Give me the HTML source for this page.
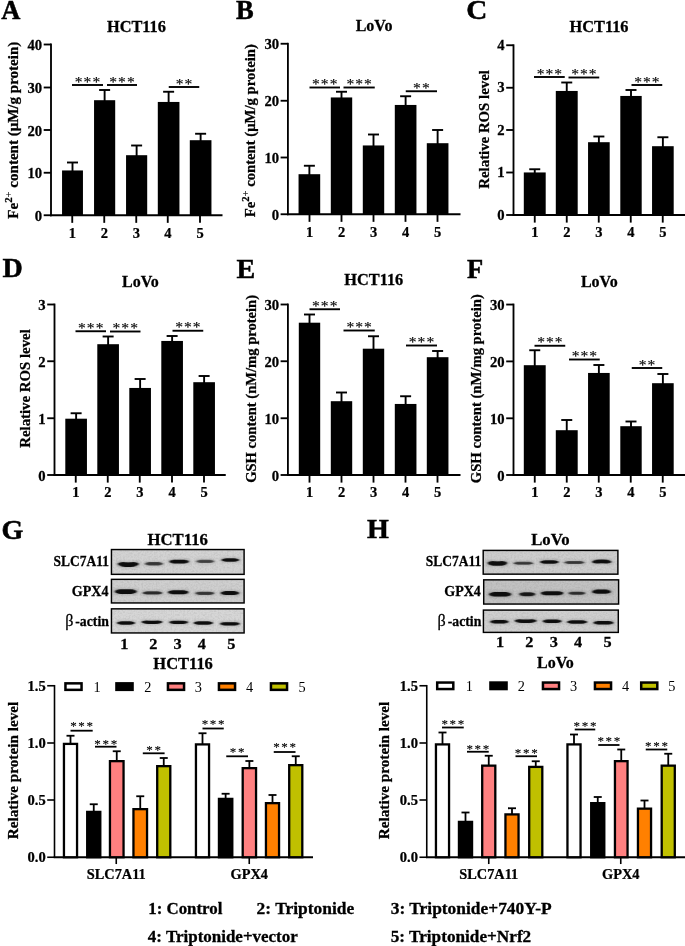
<!DOCTYPE html>
<html><head><meta charset="utf-8"><title>Figure</title>
<style>html,body{margin:0;padding:0;background:#fff}svg{display:block}text{font-family:"Liberation Serif", "DejaVu Serif", serif;fill:#000}</style>
</head><body>
<svg width="685" height="946" viewBox="0 0 685 946">
<defs>
<filter id="b1" filterUnits="userSpaceOnUse" x="100" y="540" width="530" height="100"><feGaussianBlur stdDeviation="0.8 0.55"/></filter>
<filter id="b2" filterUnits="userSpaceOnUse" x="100" y="540" width="530" height="100"><feGaussianBlur stdDeviation="1.6 1.1"/></filter>
<filter id="noise" x="0" y="0" width="100%" height="100%"><feTurbulence type="fractalNoise" baseFrequency="0.55" numOctaves="2" seed="3" result="n"/><feColorMatrix in="n" type="matrix" values="0 0 0 0 0  0 0 0 0 0  0 0 0 0 0  0.5 0.5 0 0 -0.42"/></filter>
</defs>
<rect width="685" height="946" fill="#fff"/>
<line x1="51.00" y1="43.58" x2="51.00" y2="216.18" stroke="#000" stroke-width="1.85"/>
<line x1="50.08" y1="215.25" x2="222.50" y2="215.25" stroke="#000" stroke-width="1.85"/>
<line x1="43.70" y1="44.50" x2="51.00" y2="44.50" stroke="#000" stroke-width="1.85"/>
<text transform="translate(42.20,50.00) scale(1.05,1)" font-size="14" font-weight="bold" text-anchor="end" stroke="#000" stroke-width="0.25">40</text>
<line x1="43.70" y1="87.50" x2="51.00" y2="87.50" stroke="#000" stroke-width="1.85"/>
<text transform="translate(42.20,93.00) scale(1.05,1)" font-size="14" font-weight="bold" text-anchor="end" stroke="#000" stroke-width="0.25">30</text>
<line x1="43.70" y1="130.00" x2="51.00" y2="130.00" stroke="#000" stroke-width="1.85"/>
<text transform="translate(42.20,135.50) scale(1.05,1)" font-size="14" font-weight="bold" text-anchor="end" stroke="#000" stroke-width="0.25">20</text>
<line x1="43.70" y1="172.75" x2="51.00" y2="172.75" stroke="#000" stroke-width="1.85"/>
<text transform="translate(42.20,178.25) scale(1.05,1)" font-size="14" font-weight="bold" text-anchor="end" stroke="#000" stroke-width="0.25">10</text>
<line x1="43.70" y1="215.25" x2="51.00" y2="215.25" stroke="#000" stroke-width="1.85"/>
<text transform="translate(42.20,221.15) scale(1.05,1)" font-size="14" font-weight="bold" text-anchor="end" stroke="#000" stroke-width="0.25">0</text>
<line x1="72.25" y1="215.25" x2="72.25" y2="222.85" stroke="#000" stroke-width="1.85"/>
<text transform="translate(72.25,237.55) scale(1.035,1)" font-size="14" font-weight="bold" text-anchor="middle" stroke="#000" stroke-width="0.25">1</text>
<line x1="104.25" y1="215.25" x2="104.25" y2="222.85" stroke="#000" stroke-width="1.85"/>
<text transform="translate(104.25,237.55) scale(1.035,1)" font-size="14" font-weight="bold" text-anchor="middle" stroke="#000" stroke-width="0.25">2</text>
<line x1="136.25" y1="215.25" x2="136.25" y2="222.85" stroke="#000" stroke-width="1.85"/>
<text transform="translate(136.25,237.55) scale(1.035,1)" font-size="14" font-weight="bold" text-anchor="middle" stroke="#000" stroke-width="0.25">3</text>
<line x1="167.75" y1="215.25" x2="167.75" y2="222.85" stroke="#000" stroke-width="1.85"/>
<text transform="translate(167.75,237.55) scale(1.035,1)" font-size="14" font-weight="bold" text-anchor="middle" stroke="#000" stroke-width="0.25">4</text>
<line x1="200.00" y1="215.25" x2="200.00" y2="222.85" stroke="#000" stroke-width="1.85"/>
<text transform="translate(200.00,237.55) scale(1.035,1)" font-size="14" font-weight="bold" text-anchor="middle" stroke="#000" stroke-width="0.25">5</text>
<rect x="62.05" y="170.45" width="20.90" height="44.80" fill="#000"/>
<line x1="72.50" y1="171.75" x2="72.50" y2="162.50" stroke="#000" stroke-width="1.9"/>
<line x1="67.00" y1="162.50" x2="78.00" y2="162.50" stroke="#000" stroke-width="1.9"/>
<rect x="94.05" y="100.20" width="21.15" height="115.05" fill="#000"/>
<line x1="104.62" y1="101.50" x2="104.62" y2="90.00" stroke="#000" stroke-width="1.9"/>
<line x1="99.12" y1="90.00" x2="110.12" y2="90.00" stroke="#000" stroke-width="1.9"/>
<rect x="126.05" y="155.20" width="21.15" height="60.05" fill="#000"/>
<line x1="136.62" y1="156.50" x2="136.62" y2="145.50" stroke="#000" stroke-width="1.9"/>
<line x1="131.12" y1="145.50" x2="142.12" y2="145.50" stroke="#000" stroke-width="1.9"/>
<rect x="157.80" y="101.95" width="21.65" height="113.30" fill="#000"/>
<line x1="168.62" y1="103.25" x2="168.62" y2="91.75" stroke="#000" stroke-width="1.9"/>
<line x1="163.12" y1="91.75" x2="174.12" y2="91.75" stroke="#000" stroke-width="1.9"/>
<rect x="189.80" y="140.20" width="21.65" height="75.05" fill="#000"/>
<line x1="200.62" y1="141.50" x2="200.62" y2="133.75" stroke="#000" stroke-width="1.9"/>
<line x1="195.12" y1="133.75" x2="206.12" y2="133.75" stroke="#000" stroke-width="1.9"/>
<line x1="72.00" y1="85.00" x2="103.00" y2="85.00" stroke="#000" stroke-width="1.9"/>
<text x="88.00" y="86.70" font-size="15.6" text-anchor="middle" letter-spacing="1.0" stroke="#000" stroke-width="0.16">***</text>
<line x1="107.00" y1="85.00" x2="137.00" y2="85.00" stroke="#000" stroke-width="1.9"/>
<text x="122.50" y="86.70" font-size="15.6" text-anchor="middle" letter-spacing="1.0" stroke="#000" stroke-width="0.16">***</text>
<line x1="168.75" y1="87.00" x2="199.25" y2="87.00" stroke="#000" stroke-width="1.9"/>
<text x="184.50" y="88.70" font-size="15.6" text-anchor="middle" letter-spacing="1.0" stroke="#000" stroke-width="0.16">**</text>
<text transform="translate(136.40,32.00) scale(1.02,1)" font-size="16" font-weight="bold" text-anchor="middle" stroke="#000" stroke-width="0.29">HCT116</text>
<text transform="translate(1.20,18.50)" font-size="26.5" font-weight="bold" text-anchor="start" stroke="#000" stroke-width="0.48">A</text>
<text transform="translate(17.70,130.20) rotate(-90) scale(1.074,1)" font-size="14" font-weight="bold" text-anchor="middle" stroke="#000" stroke-width="0.25">Fe<tspan font-size="10" dy="-6.2">2</tspan><tspan font-size="10" font-weight="normal" stroke-width="0.15">+</tspan><tspan dy="6.2"> content (μM/g protein)</tspan></text>
<line x1="287.90" y1="42.83" x2="287.90" y2="215.18" stroke="#000" stroke-width="1.85"/>
<line x1="286.97" y1="214.25" x2="460.50" y2="214.25" stroke="#000" stroke-width="1.85"/>
<line x1="280.60" y1="43.75" x2="287.90" y2="43.75" stroke="#000" stroke-width="1.85"/>
<text transform="translate(279.10,49.25) scale(1.05,1)" font-size="14" font-weight="bold" text-anchor="end" stroke="#000" stroke-width="0.25">30</text>
<line x1="280.60" y1="100.75" x2="287.90" y2="100.75" stroke="#000" stroke-width="1.85"/>
<text transform="translate(279.10,106.25) scale(1.05,1)" font-size="14" font-weight="bold" text-anchor="end" stroke="#000" stroke-width="0.25">20</text>
<line x1="280.60" y1="157.50" x2="287.90" y2="157.50" stroke="#000" stroke-width="1.85"/>
<text transform="translate(279.10,163.00) scale(1.05,1)" font-size="14" font-weight="bold" text-anchor="end" stroke="#000" stroke-width="0.25">10</text>
<line x1="280.60" y1="214.25" x2="287.90" y2="214.25" stroke="#000" stroke-width="1.85"/>
<text transform="translate(279.10,220.15) scale(1.05,1)" font-size="14" font-weight="bold" text-anchor="end" stroke="#000" stroke-width="0.25">0</text>
<line x1="309.50" y1="214.25" x2="309.50" y2="221.85" stroke="#000" stroke-width="1.85"/>
<text transform="translate(309.50,236.55) scale(1.035,1)" font-size="14" font-weight="bold" text-anchor="middle" stroke="#000" stroke-width="0.25">1</text>
<line x1="341.50" y1="214.25" x2="341.50" y2="221.85" stroke="#000" stroke-width="1.85"/>
<text transform="translate(341.50,236.55) scale(1.035,1)" font-size="14" font-weight="bold" text-anchor="middle" stroke="#000" stroke-width="0.25">2</text>
<line x1="373.50" y1="214.25" x2="373.50" y2="221.85" stroke="#000" stroke-width="1.85"/>
<text transform="translate(373.50,236.55) scale(1.035,1)" font-size="14" font-weight="bold" text-anchor="middle" stroke="#000" stroke-width="0.25">3</text>
<line x1="405.50" y1="214.25" x2="405.50" y2="221.85" stroke="#000" stroke-width="1.85"/>
<text transform="translate(405.50,236.55) scale(1.035,1)" font-size="14" font-weight="bold" text-anchor="middle" stroke="#000" stroke-width="0.25">4</text>
<line x1="437.50" y1="214.25" x2="437.50" y2="221.85" stroke="#000" stroke-width="1.85"/>
<text transform="translate(437.50,236.55) scale(1.035,1)" font-size="14" font-weight="bold" text-anchor="middle" stroke="#000" stroke-width="0.25">5</text>
<rect x="298.55" y="174.20" width="21.65" height="40.05" fill="#000"/>
<line x1="309.38" y1="175.50" x2="309.38" y2="165.75" stroke="#000" stroke-width="1.9"/>
<line x1="303.88" y1="165.75" x2="314.88" y2="165.75" stroke="#000" stroke-width="1.9"/>
<rect x="330.80" y="97.45" width="21.40" height="116.80" fill="#000"/>
<line x1="341.50" y1="98.75" x2="341.50" y2="91.75" stroke="#000" stroke-width="1.9"/>
<line x1="336.00" y1="91.75" x2="347.00" y2="91.75" stroke="#000" stroke-width="1.9"/>
<rect x="362.80" y="145.45" width="21.40" height="68.80" fill="#000"/>
<line x1="373.50" y1="146.75" x2="373.50" y2="134.50" stroke="#000" stroke-width="1.9"/>
<line x1="368.00" y1="134.50" x2="379.00" y2="134.50" stroke="#000" stroke-width="1.9"/>
<rect x="394.80" y="104.95" width="21.65" height="109.30" fill="#000"/>
<line x1="405.62" y1="106.25" x2="405.62" y2="96.25" stroke="#000" stroke-width="1.9"/>
<line x1="400.12" y1="96.25" x2="411.12" y2="96.25" stroke="#000" stroke-width="1.9"/>
<rect x="426.80" y="143.20" width="21.65" height="71.05" fill="#000"/>
<line x1="437.62" y1="144.50" x2="437.62" y2="130.00" stroke="#000" stroke-width="1.9"/>
<line x1="432.12" y1="130.00" x2="443.12" y2="130.00" stroke="#000" stroke-width="1.9"/>
<line x1="309.50" y1="87.50" x2="340.00" y2="87.50" stroke="#000" stroke-width="1.9"/>
<text x="325.25" y="89.20" font-size="15.6" text-anchor="middle" letter-spacing="1.0" stroke="#000" stroke-width="0.16">***</text>
<line x1="343.50" y1="87.50" x2="374.75" y2="87.50" stroke="#000" stroke-width="1.9"/>
<text x="359.62" y="89.20" font-size="15.6" text-anchor="middle" letter-spacing="1.0" stroke="#000" stroke-width="0.16">***</text>
<line x1="405.75" y1="91.25" x2="437.00" y2="91.25" stroke="#000" stroke-width="1.9"/>
<text x="421.88" y="92.95" font-size="15.6" text-anchor="middle" letter-spacing="1.0" stroke="#000" stroke-width="0.16">**</text>
<text transform="translate(374.00,31.00)" font-size="16" font-weight="bold" text-anchor="middle" stroke="#000" stroke-width="0.29">LoVo</text>
<text transform="translate(236.00,18.50)" font-size="26.5" font-weight="bold" text-anchor="start" stroke="#000" stroke-width="0.48">B</text>
<text transform="translate(255.30,130.70) rotate(-90) scale(1.05,1)" font-size="14" font-weight="bold" text-anchor="middle" stroke="#000" stroke-width="0.25">Fe<tspan font-size="10" dy="-6.2">2</tspan><tspan font-size="10" font-weight="normal" stroke-width="0.15">+</tspan><tspan dy="6.2"> content (μM/g protein)</tspan></text>
<line x1="513.50" y1="44.33" x2="513.50" y2="215.93" stroke="#000" stroke-width="1.85"/>
<line x1="512.58" y1="215.00" x2="686.00" y2="215.00" stroke="#000" stroke-width="1.85"/>
<line x1="506.20" y1="45.25" x2="513.50" y2="45.25" stroke="#000" stroke-width="1.85"/>
<text transform="translate(504.70,49.85) scale(1.05,1)" font-size="14" font-weight="bold" text-anchor="end" stroke="#000" stroke-width="0.25">4</text>
<line x1="506.20" y1="87.75" x2="513.50" y2="87.75" stroke="#000" stroke-width="1.85"/>
<text transform="translate(504.70,92.35) scale(1.05,1)" font-size="14" font-weight="bold" text-anchor="end" stroke="#000" stroke-width="0.25">3</text>
<line x1="506.20" y1="130.00" x2="513.50" y2="130.00" stroke="#000" stroke-width="1.85"/>
<text transform="translate(504.70,134.60) scale(1.05,1)" font-size="14" font-weight="bold" text-anchor="end" stroke="#000" stroke-width="0.25">2</text>
<line x1="506.20" y1="172.50" x2="513.50" y2="172.50" stroke="#000" stroke-width="1.85"/>
<text transform="translate(504.70,177.10) scale(1.05,1)" font-size="14" font-weight="bold" text-anchor="end" stroke="#000" stroke-width="0.25">1</text>
<line x1="506.20" y1="215.00" x2="513.50" y2="215.00" stroke="#000" stroke-width="1.85"/>
<text transform="translate(504.70,220.00) scale(1.05,1)" font-size="14" font-weight="bold" text-anchor="end" stroke="#000" stroke-width="0.25">0</text>
<line x1="534.75" y1="215.00" x2="534.75" y2="222.60" stroke="#000" stroke-width="1.85"/>
<text transform="translate(534.75,237.30) scale(1.035,1)" font-size="14" font-weight="bold" text-anchor="middle" stroke="#000" stroke-width="0.25">1</text>
<line x1="566.75" y1="215.00" x2="566.75" y2="222.60" stroke="#000" stroke-width="1.85"/>
<text transform="translate(566.75,237.30) scale(1.035,1)" font-size="14" font-weight="bold" text-anchor="middle" stroke="#000" stroke-width="0.25">2</text>
<line x1="598.75" y1="215.00" x2="598.75" y2="222.60" stroke="#000" stroke-width="1.85"/>
<text transform="translate(598.75,237.30) scale(1.035,1)" font-size="14" font-weight="bold" text-anchor="middle" stroke="#000" stroke-width="0.25">3</text>
<line x1="630.75" y1="215.00" x2="630.75" y2="222.60" stroke="#000" stroke-width="1.85"/>
<text transform="translate(630.75,237.30) scale(1.035,1)" font-size="14" font-weight="bold" text-anchor="middle" stroke="#000" stroke-width="0.25">4</text>
<line x1="662.75" y1="215.00" x2="662.75" y2="222.60" stroke="#000" stroke-width="1.85"/>
<text transform="translate(662.75,237.30) scale(1.035,1)" font-size="14" font-weight="bold" text-anchor="middle" stroke="#000" stroke-width="0.25">5</text>
<rect x="523.80" y="172.45" width="21.90" height="42.55" fill="#000"/>
<line x1="534.75" y1="173.75" x2="534.75" y2="169.25" stroke="#000" stroke-width="1.9"/>
<line x1="529.25" y1="169.25" x2="540.25" y2="169.25" stroke="#000" stroke-width="1.9"/>
<rect x="555.80" y="90.95" width="21.90" height="124.05" fill="#000"/>
<line x1="566.75" y1="92.25" x2="566.75" y2="82.50" stroke="#000" stroke-width="1.9"/>
<line x1="561.25" y1="82.50" x2="572.25" y2="82.50" stroke="#000" stroke-width="1.9"/>
<rect x="588.05" y="142.20" width="21.65" height="72.80" fill="#000"/>
<line x1="598.88" y1="143.50" x2="598.88" y2="136.50" stroke="#000" stroke-width="1.9"/>
<line x1="593.38" y1="136.50" x2="604.38" y2="136.50" stroke="#000" stroke-width="1.9"/>
<rect x="620.30" y="95.95" width="21.40" height="119.05" fill="#000"/>
<line x1="631.00" y1="97.25" x2="631.00" y2="90.00" stroke="#000" stroke-width="1.9"/>
<line x1="625.50" y1="90.00" x2="636.50" y2="90.00" stroke="#000" stroke-width="1.9"/>
<rect x="652.05" y="146.20" width="21.65" height="68.80" fill="#000"/>
<line x1="662.88" y1="147.50" x2="662.88" y2="137.25" stroke="#000" stroke-width="1.9"/>
<line x1="657.38" y1="137.25" x2="668.38" y2="137.25" stroke="#000" stroke-width="1.9"/>
<line x1="534.00" y1="77.00" x2="564.75" y2="77.00" stroke="#000" stroke-width="1.9"/>
<text x="549.88" y="78.70" font-size="15.6" text-anchor="middle" letter-spacing="1.0" stroke="#000" stroke-width="0.16">***</text>
<line x1="568.50" y1="77.50" x2="599.25" y2="77.50" stroke="#000" stroke-width="1.9"/>
<text x="584.38" y="79.20" font-size="15.6" text-anchor="middle" letter-spacing="1.0" stroke="#000" stroke-width="0.16">***</text>
<line x1="631.50" y1="85.00" x2="662.25" y2="85.00" stroke="#000" stroke-width="1.9"/>
<text x="647.38" y="86.70" font-size="15.6" text-anchor="middle" letter-spacing="1.0" stroke="#000" stroke-width="0.16">***</text>
<text transform="translate(599.00,31.50) scale(1.02,1)" font-size="16" font-weight="bold" text-anchor="middle" stroke="#000" stroke-width="0.29">HCT116</text>
<text transform="translate(466.30,18.50) scale(1.1,1)" font-size="26.5" font-weight="bold" text-anchor="start" stroke="#000" stroke-width="0.48">C</text>
<text transform="translate(488.50,129.40) rotate(-90) scale(1.06,1)" font-size="14" font-weight="bold" text-anchor="middle" stroke="#000" stroke-width="0.25">Relative ROS level</text>
<line x1="54.50" y1="303.57" x2="54.50" y2="475.93" stroke="#000" stroke-width="1.85"/>
<line x1="53.58" y1="475.00" x2="225.75" y2="475.00" stroke="#000" stroke-width="1.85"/>
<line x1="47.20" y1="304.50" x2="54.50" y2="304.50" stroke="#000" stroke-width="1.85"/>
<text transform="translate(45.70,310.00) scale(1.05,1)" font-size="14" font-weight="bold" text-anchor="end" stroke="#000" stroke-width="0.25">3</text>
<line x1="47.20" y1="361.25" x2="54.50" y2="361.25" stroke="#000" stroke-width="1.85"/>
<text transform="translate(45.70,366.75) scale(1.05,1)" font-size="14" font-weight="bold" text-anchor="end" stroke="#000" stroke-width="0.25">2</text>
<line x1="47.20" y1="418.25" x2="54.50" y2="418.25" stroke="#000" stroke-width="1.85"/>
<text transform="translate(45.70,423.75) scale(1.05,1)" font-size="14" font-weight="bold" text-anchor="end" stroke="#000" stroke-width="0.25">1</text>
<line x1="47.20" y1="475.00" x2="54.50" y2="475.00" stroke="#000" stroke-width="1.85"/>
<text transform="translate(45.70,480.90) scale(1.05,1)" font-size="14" font-weight="bold" text-anchor="end" stroke="#000" stroke-width="0.25">0</text>
<line x1="75.75" y1="475.00" x2="75.75" y2="482.60" stroke="#000" stroke-width="1.85"/>
<text transform="translate(75.75,497.30) scale(1.035,1)" font-size="14" font-weight="bold" text-anchor="middle" stroke="#000" stroke-width="0.25">1</text>
<line x1="107.75" y1="475.00" x2="107.75" y2="482.60" stroke="#000" stroke-width="1.85"/>
<text transform="translate(107.75,497.30) scale(1.035,1)" font-size="14" font-weight="bold" text-anchor="middle" stroke="#000" stroke-width="0.25">2</text>
<line x1="139.75" y1="475.00" x2="139.75" y2="482.60" stroke="#000" stroke-width="1.85"/>
<text transform="translate(139.75,497.30) scale(1.035,1)" font-size="14" font-weight="bold" text-anchor="middle" stroke="#000" stroke-width="0.25">3</text>
<line x1="172.00" y1="475.00" x2="172.00" y2="482.60" stroke="#000" stroke-width="1.85"/>
<text transform="translate(172.00,497.30) scale(1.035,1)" font-size="14" font-weight="bold" text-anchor="middle" stroke="#000" stroke-width="0.25">4</text>
<line x1="204.00" y1="475.00" x2="204.00" y2="482.60" stroke="#000" stroke-width="1.85"/>
<text transform="translate(204.00,497.30) scale(1.035,1)" font-size="14" font-weight="bold" text-anchor="middle" stroke="#000" stroke-width="0.25">5</text>
<rect x="65.30" y="418.70" width="21.65" height="56.30" fill="#000"/>
<line x1="76.12" y1="420.00" x2="76.12" y2="413.25" stroke="#000" stroke-width="1.9"/>
<line x1="70.62" y1="413.25" x2="81.62" y2="413.25" stroke="#000" stroke-width="1.9"/>
<rect x="97.30" y="344.20" width="21.65" height="130.80" fill="#000"/>
<line x1="108.12" y1="345.50" x2="108.12" y2="336.50" stroke="#000" stroke-width="1.9"/>
<line x1="102.62" y1="336.50" x2="113.62" y2="336.50" stroke="#000" stroke-width="1.9"/>
<rect x="129.30" y="387.95" width="21.65" height="87.05" fill="#000"/>
<line x1="140.12" y1="389.25" x2="140.12" y2="379.00" stroke="#000" stroke-width="1.9"/>
<line x1="134.62" y1="379.00" x2="145.62" y2="379.00" stroke="#000" stroke-width="1.9"/>
<rect x="161.30" y="340.95" width="21.65" height="134.05" fill="#000"/>
<line x1="172.12" y1="342.25" x2="172.12" y2="336.00" stroke="#000" stroke-width="1.9"/>
<line x1="166.62" y1="336.00" x2="177.62" y2="336.00" stroke="#000" stroke-width="1.9"/>
<rect x="193.30" y="382.20" width="21.65" height="92.80" fill="#000"/>
<line x1="204.12" y1="383.50" x2="204.12" y2="376.00" stroke="#000" stroke-width="1.9"/>
<line x1="198.62" y1="376.00" x2="209.62" y2="376.00" stroke="#000" stroke-width="1.9"/>
<line x1="75.50" y1="331.25" x2="106.00" y2="331.25" stroke="#000" stroke-width="1.9"/>
<text x="91.25" y="332.95" font-size="15.6" text-anchor="middle" letter-spacing="1.0" stroke="#000" stroke-width="0.16">***</text>
<line x1="110.00" y1="331.50" x2="140.50" y2="331.50" stroke="#000" stroke-width="1.9"/>
<text x="125.75" y="333.20" font-size="15.6" text-anchor="middle" letter-spacing="1.0" stroke="#000" stroke-width="0.16">***</text>
<line x1="172.50" y1="330.75" x2="203.25" y2="330.75" stroke="#000" stroke-width="1.9"/>
<text x="188.38" y="332.45" font-size="15.6" text-anchor="middle" letter-spacing="1.0" stroke="#000" stroke-width="0.16">***</text>
<text transform="translate(140.40,286.50)" font-size="16" font-weight="bold" text-anchor="middle" stroke="#000" stroke-width="0.29">LoVo</text>
<text transform="translate(2.50,276.50) scale(1.06,1)" font-size="26.5" font-weight="bold" text-anchor="start" stroke="#000" stroke-width="0.48">D</text>
<text transform="translate(29.60,388.50) rotate(-90) scale(1.06,1)" font-size="14" font-weight="bold" text-anchor="middle" stroke="#000" stroke-width="0.25">Relative ROS level</text>
<line x1="287.90" y1="303.57" x2="287.90" y2="475.93" stroke="#000" stroke-width="1.85"/>
<line x1="286.97" y1="475.00" x2="460.50" y2="475.00" stroke="#000" stroke-width="1.85"/>
<line x1="280.60" y1="304.50" x2="287.90" y2="304.50" stroke="#000" stroke-width="1.85"/>
<text transform="translate(279.10,310.00) scale(1.05,1)" font-size="14" font-weight="bold" text-anchor="end" stroke="#000" stroke-width="0.25">30</text>
<line x1="280.60" y1="361.25" x2="287.90" y2="361.25" stroke="#000" stroke-width="1.85"/>
<text transform="translate(279.10,366.75) scale(1.05,1)" font-size="14" font-weight="bold" text-anchor="end" stroke="#000" stroke-width="0.25">20</text>
<line x1="280.60" y1="418.25" x2="287.90" y2="418.25" stroke="#000" stroke-width="1.85"/>
<text transform="translate(279.10,423.75) scale(1.05,1)" font-size="14" font-weight="bold" text-anchor="end" stroke="#000" stroke-width="0.25">10</text>
<line x1="280.60" y1="475.00" x2="287.90" y2="475.00" stroke="#000" stroke-width="1.85"/>
<text transform="translate(279.10,480.90) scale(1.05,1)" font-size="14" font-weight="bold" text-anchor="end" stroke="#000" stroke-width="0.25">0</text>
<line x1="309.50" y1="475.00" x2="309.50" y2="482.60" stroke="#000" stroke-width="1.85"/>
<text transform="translate(309.50,497.30) scale(1.035,1)" font-size="14" font-weight="bold" text-anchor="middle" stroke="#000" stroke-width="0.25">1</text>
<line x1="341.50" y1="475.00" x2="341.50" y2="482.60" stroke="#000" stroke-width="1.85"/>
<text transform="translate(341.50,497.30) scale(1.035,1)" font-size="14" font-weight="bold" text-anchor="middle" stroke="#000" stroke-width="0.25">2</text>
<line x1="373.50" y1="475.00" x2="373.50" y2="482.60" stroke="#000" stroke-width="1.85"/>
<text transform="translate(373.50,497.30) scale(1.035,1)" font-size="14" font-weight="bold" text-anchor="middle" stroke="#000" stroke-width="0.25">3</text>
<line x1="405.50" y1="475.00" x2="405.50" y2="482.60" stroke="#000" stroke-width="1.85"/>
<text transform="translate(405.50,497.30) scale(1.035,1)" font-size="14" font-weight="bold" text-anchor="middle" stroke="#000" stroke-width="0.25">4</text>
<line x1="437.50" y1="475.00" x2="437.50" y2="482.60" stroke="#000" stroke-width="1.85"/>
<text transform="translate(437.50,497.30) scale(1.035,1)" font-size="14" font-weight="bold" text-anchor="middle" stroke="#000" stroke-width="0.25">5</text>
<rect x="298.80" y="322.70" width="21.40" height="152.30" fill="#000"/>
<line x1="309.50" y1="324.00" x2="309.50" y2="314.50" stroke="#000" stroke-width="1.9"/>
<line x1="304.00" y1="314.50" x2="315.00" y2="314.50" stroke="#000" stroke-width="1.9"/>
<rect x="330.80" y="401.20" width="21.40" height="73.80" fill="#000"/>
<line x1="341.50" y1="402.50" x2="341.50" y2="392.50" stroke="#000" stroke-width="1.9"/>
<line x1="336.00" y1="392.50" x2="347.00" y2="392.50" stroke="#000" stroke-width="1.9"/>
<rect x="362.80" y="348.70" width="21.40" height="126.30" fill="#000"/>
<line x1="373.50" y1="350.00" x2="373.50" y2="336.25" stroke="#000" stroke-width="1.9"/>
<line x1="368.00" y1="336.25" x2="379.00" y2="336.25" stroke="#000" stroke-width="1.9"/>
<rect x="394.80" y="403.95" width="21.65" height="71.05" fill="#000"/>
<line x1="405.62" y1="405.25" x2="405.62" y2="396.25" stroke="#000" stroke-width="1.9"/>
<line x1="400.12" y1="396.25" x2="411.12" y2="396.25" stroke="#000" stroke-width="1.9"/>
<rect x="426.80" y="357.20" width="21.65" height="117.80" fill="#000"/>
<line x1="437.62" y1="358.50" x2="437.62" y2="351.00" stroke="#000" stroke-width="1.9"/>
<line x1="432.12" y1="351.00" x2="443.12" y2="351.00" stroke="#000" stroke-width="1.9"/>
<line x1="309.50" y1="309.25" x2="340.00" y2="309.25" stroke="#000" stroke-width="1.9"/>
<text x="325.25" y="310.95" font-size="15.6" text-anchor="middle" letter-spacing="1.0" stroke="#000" stroke-width="0.16">***</text>
<line x1="343.50" y1="330.50" x2="374.75" y2="330.50" stroke="#000" stroke-width="1.9"/>
<text x="359.62" y="332.20" font-size="15.6" text-anchor="middle" letter-spacing="1.0" stroke="#000" stroke-width="0.16">***</text>
<line x1="406.00" y1="345.50" x2="437.00" y2="345.50" stroke="#000" stroke-width="1.9"/>
<text x="422.00" y="347.20" font-size="15.6" text-anchor="middle" letter-spacing="1.0" stroke="#000" stroke-width="0.16">***</text>
<text transform="translate(373.75,285.00) scale(1.02,1)" font-size="16" font-weight="bold" text-anchor="middle" stroke="#000" stroke-width="0.29">HCT116</text>
<text transform="translate(236.50,277.50) scale(1.06,1)" font-size="26.5" font-weight="bold" text-anchor="start" stroke="#000" stroke-width="0.48">E</text>
<text transform="translate(255.50,388.90) rotate(-90) scale(1.042,1)" font-size="14" font-weight="bold" text-anchor="middle" stroke="#000" stroke-width="0.25">GSH content (nM/mg protein)</text>
<line x1="513.50" y1="303.62" x2="513.50" y2="475.93" stroke="#000" stroke-width="1.85"/>
<line x1="512.58" y1="475.00" x2="686.00" y2="475.00" stroke="#000" stroke-width="1.85"/>
<line x1="506.20" y1="304.55" x2="513.50" y2="304.55" stroke="#000" stroke-width="1.85"/>
<text transform="translate(504.70,310.05) scale(1.05,1)" font-size="14" font-weight="bold" text-anchor="end" stroke="#000" stroke-width="0.25">30</text>
<line x1="506.20" y1="361.40" x2="513.50" y2="361.40" stroke="#000" stroke-width="1.85"/>
<text transform="translate(504.70,366.90) scale(1.05,1)" font-size="14" font-weight="bold" text-anchor="end" stroke="#000" stroke-width="0.25">20</text>
<line x1="506.20" y1="418.30" x2="513.50" y2="418.30" stroke="#000" stroke-width="1.85"/>
<text transform="translate(504.70,423.80) scale(1.05,1)" font-size="14" font-weight="bold" text-anchor="end" stroke="#000" stroke-width="0.25">10</text>
<line x1="506.20" y1="475.00" x2="513.50" y2="475.00" stroke="#000" stroke-width="1.85"/>
<text transform="translate(504.70,480.90) scale(1.05,1)" font-size="14" font-weight="bold" text-anchor="end" stroke="#000" stroke-width="0.25">0</text>
<line x1="534.75" y1="475.00" x2="534.75" y2="482.60" stroke="#000" stroke-width="1.85"/>
<text transform="translate(534.75,497.30) scale(1.035,1)" font-size="14" font-weight="bold" text-anchor="middle" stroke="#000" stroke-width="0.25">1</text>
<line x1="566.75" y1="475.00" x2="566.75" y2="482.60" stroke="#000" stroke-width="1.85"/>
<text transform="translate(566.75,497.30) scale(1.035,1)" font-size="14" font-weight="bold" text-anchor="middle" stroke="#000" stroke-width="0.25">2</text>
<line x1="598.75" y1="475.00" x2="598.75" y2="482.60" stroke="#000" stroke-width="1.85"/>
<text transform="translate(598.75,497.30) scale(1.035,1)" font-size="14" font-weight="bold" text-anchor="middle" stroke="#000" stroke-width="0.25">3</text>
<line x1="630.75" y1="475.00" x2="630.75" y2="482.60" stroke="#000" stroke-width="1.85"/>
<text transform="translate(630.75,497.30) scale(1.035,1)" font-size="14" font-weight="bold" text-anchor="middle" stroke="#000" stroke-width="0.25">4</text>
<line x1="662.75" y1="475.00" x2="662.75" y2="482.60" stroke="#000" stroke-width="1.85"/>
<text transform="translate(662.75,497.30) scale(1.035,1)" font-size="14" font-weight="bold" text-anchor="middle" stroke="#000" stroke-width="0.25">5</text>
<rect x="523.80" y="365.20" width="21.90" height="109.80" fill="#000"/>
<line x1="534.75" y1="366.50" x2="534.75" y2="350.25" stroke="#000" stroke-width="1.9"/>
<line x1="529.25" y1="350.25" x2="540.25" y2="350.25" stroke="#000" stroke-width="1.9"/>
<rect x="555.80" y="430.20" width="21.90" height="44.80" fill="#000"/>
<line x1="566.75" y1="431.50" x2="566.75" y2="420.00" stroke="#000" stroke-width="1.9"/>
<line x1="561.25" y1="420.00" x2="572.25" y2="420.00" stroke="#000" stroke-width="1.9"/>
<rect x="588.05" y="372.95" width="21.65" height="102.05" fill="#000"/>
<line x1="598.88" y1="374.25" x2="598.88" y2="365.00" stroke="#000" stroke-width="1.9"/>
<line x1="593.38" y1="365.00" x2="604.38" y2="365.00" stroke="#000" stroke-width="1.9"/>
<rect x="620.30" y="426.20" width="21.40" height="48.80" fill="#000"/>
<line x1="631.00" y1="427.50" x2="631.00" y2="421.50" stroke="#000" stroke-width="1.9"/>
<line x1="625.50" y1="421.50" x2="636.50" y2="421.50" stroke="#000" stroke-width="1.9"/>
<rect x="652.05" y="383.20" width="21.65" height="91.80" fill="#000"/>
<line x1="662.88" y1="384.50" x2="662.88" y2="374.00" stroke="#000" stroke-width="1.9"/>
<line x1="657.38" y1="374.00" x2="668.38" y2="374.00" stroke="#000" stroke-width="1.9"/>
<line x1="534.50" y1="345.75" x2="565.25" y2="345.75" stroke="#000" stroke-width="1.9"/>
<text x="550.38" y="347.45" font-size="15.6" text-anchor="middle" letter-spacing="1.0" stroke="#000" stroke-width="0.16">***</text>
<line x1="569.00" y1="359.50" x2="599.75" y2="359.50" stroke="#000" stroke-width="1.9"/>
<text x="584.88" y="361.20" font-size="15.6" text-anchor="middle" letter-spacing="1.0" stroke="#000" stroke-width="0.16">***</text>
<line x1="631.75" y1="368.00" x2="662.25" y2="368.00" stroke="#000" stroke-width="1.9"/>
<text x="647.50" y="369.70" font-size="15.6" text-anchor="middle" letter-spacing="1.0" stroke="#000" stroke-width="0.16">**</text>
<text transform="translate(599.25,286.70)" font-size="16" font-weight="bold" text-anchor="middle" stroke="#000" stroke-width="0.29">LoVo</text>
<text transform="translate(467.00,277.50)" font-size="26.5" font-weight="bold" text-anchor="start" stroke="#000" stroke-width="0.48">F</text>
<text transform="translate(481.00,388.70) rotate(-90) scale(1.048,1)" font-size="14" font-weight="bold" text-anchor="middle" stroke="#000" stroke-width="0.25">GSH content (nM/mg protein)</text>
<rect x="111.45" y="549.55" width="132.65" height="24.80" fill="#d3d3d3"/>
<rect x="111.45" y="549.55" width="132.64999999999998" height="24.800000000000068" filter="url(#noise)" opacity="0.22"/>
<path d="M119.10,564.00 Q128.25,565.40 137.40,564.00" fill="none" stroke="#222" stroke-width="6.00" stroke-linecap="round" opacity="0.20" filter="url(#b2)"/>
<path d="M119.42,564.00 Q128.25,565.40 137.08,564.00" fill="none" stroke="#0a0a0a" stroke-width="2.64" stroke-linecap="round" opacity="1" filter="url(#b1)"/>
<path d="M122.10,564.21 Q128.25,565.19 134.40,564.21" fill="none" stroke="#0a0a0a" stroke-width="4.40" stroke-linecap="round" opacity="1" filter="url(#b1)"/>
<path d="M146.20,563.70 Q153.90,563.70 161.60,563.70" fill="none" stroke="#222" stroke-width="5.04" stroke-linecap="round" opacity="0.17" filter="url(#b2)"/>
<path d="M146.23,563.70 Q153.90,563.70 161.57,563.70" fill="none" stroke="#333" stroke-width="2.06" stroke-linecap="round" opacity="0.85" filter="url(#b1)"/>
<path d="M148.72,563.70 Q153.90,563.70 159.08,563.70" fill="none" stroke="#333" stroke-width="3.44" stroke-linecap="round" opacity="0.85" filter="url(#b1)"/>
<path d="M170.60,561.60 Q179.10,561.60 187.60,561.60" fill="none" stroke="#222" stroke-width="5.28" stroke-linecap="round" opacity="0.19" filter="url(#b2)"/>
<path d="M170.70,561.60 Q179.10,561.60 187.50,561.60" fill="none" stroke="#0a0a0a" stroke-width="2.21" stroke-linecap="round" opacity="0.97" filter="url(#b1)"/>
<path d="M173.24,561.60 Q179.10,561.60 184.96,561.60" fill="none" stroke="#0a0a0a" stroke-width="3.68" stroke-linecap="round" opacity="0.97" filter="url(#b1)"/>
<path d="M197.40,561.40 Q205.20,561.40 213.00,561.40" fill="none" stroke="#222" stroke-width="4.80" stroke-linecap="round" opacity="0.16" filter="url(#b2)"/>
<path d="M197.36,561.40 Q205.20,561.40 213.04,561.40" fill="none" stroke="#3a3a3a" stroke-width="1.92" stroke-linecap="round" opacity="0.8" filter="url(#b1)"/>
<path d="M199.80,561.40 Q205.20,561.40 210.60,561.40" fill="none" stroke="#3a3a3a" stroke-width="3.20" stroke-linecap="round" opacity="0.8" filter="url(#b1)"/>
<path d="M222.80,560.00 Q230.30,560.00 237.80,560.00" fill="none" stroke="#222" stroke-width="5.04" stroke-linecap="round" opacity="0.19" filter="url(#b2)"/>
<path d="M222.83,560.00 Q230.30,560.00 237.77,560.00" fill="none" stroke="#0a0a0a" stroke-width="2.06" stroke-linecap="round" opacity="0.97" filter="url(#b1)"/>
<path d="M225.32,560.00 Q230.30,560.00 235.28,560.00" fill="none" stroke="#0a0a0a" stroke-width="3.44" stroke-linecap="round" opacity="0.97" filter="url(#b1)"/>
<rect x="111.45" y="549.55" width="132.64999999999998" height="24.800000000000068" fill="none" stroke="#000" stroke-width="1.45"/>
<rect x="111.45" y="579.35" width="132.65" height="23.60" fill="#cfcfcf"/>
<rect x="111.45" y="579.35" width="132.64999999999998" height="23.600000000000023" filter="url(#noise)" opacity="0.22"/>
<path d="M116.20,591.60 Q125.75,591.60 135.30,591.60" fill="none" stroke="#222" stroke-width="6.40" stroke-linecap="round" opacity="0.20" filter="url(#b2)"/>
<path d="M116.64,591.60 Q125.75,591.60 134.86,591.60" fill="none" stroke="#0a0a0a" stroke-width="2.88" stroke-linecap="round" opacity="1" filter="url(#b1)"/>
<path d="M119.40,591.60 Q125.75,591.60 132.10,591.60" fill="none" stroke="#0a0a0a" stroke-width="4.80" stroke-linecap="round" opacity="1" filter="url(#b1)"/>
<path d="M144.00,592.90 Q152.50,592.90 161.00,592.90" fill="none" stroke="#222" stroke-width="4.96" stroke-linecap="round" opacity="0.18" filter="url(#b2)"/>
<path d="M144.01,592.90 Q152.50,592.90 160.99,592.90" fill="none" stroke="#2c2c2c" stroke-width="2.02" stroke-linecap="round" opacity="0.88" filter="url(#b1)"/>
<path d="M146.48,592.90 Q152.50,592.90 158.52,592.90" fill="none" stroke="#2c2c2c" stroke-width="3.36" stroke-linecap="round" opacity="0.88" filter="url(#b1)"/>
<path d="M169.50,592.30 Q178.25,592.30 187.00,592.30" fill="none" stroke="#222" stroke-width="5.60" stroke-linecap="round" opacity="0.20" filter="url(#b2)"/>
<path d="M169.70,592.30 Q178.25,592.30 186.80,592.30" fill="none" stroke="#0a0a0a" stroke-width="2.40" stroke-linecap="round" opacity="1" filter="url(#b1)"/>
<path d="M172.30,592.30 Q178.25,592.30 184.20,592.30" fill="none" stroke="#0a0a0a" stroke-width="4.00" stroke-linecap="round" opacity="1" filter="url(#b1)"/>
<path d="M196.60,593.30 Q204.80,593.30 213.00,593.30" fill="none" stroke="#222" stroke-width="4.80" stroke-linecap="round" opacity="0.17" filter="url(#b2)"/>
<path d="M196.56,593.30 Q204.80,593.30 213.04,593.30" fill="none" stroke="#333" stroke-width="1.92" stroke-linecap="round" opacity="0.85" filter="url(#b1)"/>
<path d="M199.00,593.30 Q204.80,593.30 210.60,593.30" fill="none" stroke="#333" stroke-width="3.20" stroke-linecap="round" opacity="0.85" filter="url(#b1)"/>
<path d="M222.00,593.10 Q229.90,593.10 237.80,593.10" fill="none" stroke="#222" stroke-width="5.60" stroke-linecap="round" opacity="0.19" filter="url(#b2)"/>
<path d="M222.20,593.10 Q229.90,593.10 237.60,593.10" fill="none" stroke="#0a0a0a" stroke-width="2.40" stroke-linecap="round" opacity="0.97" filter="url(#b1)"/>
<path d="M224.80,593.10 Q229.90,593.10 235.00,593.10" fill="none" stroke="#0a0a0a" stroke-width="4.00" stroke-linecap="round" opacity="0.97" filter="url(#b1)"/>
<rect x="111.45" y="579.35" width="132.64999999999998" height="23.600000000000023" fill="none" stroke="#000" stroke-width="1.45"/>
<rect x="111.45" y="608.85" width="132.65" height="24.10" fill="#d6d6d6"/>
<rect x="111.45" y="608.85" width="132.64999999999998" height="24.100000000000023" filter="url(#noise)" opacity="0.22"/>
<path d="M118.30,623.00 Q125.95,623.00 133.60,623.00" fill="none" stroke="#222" stroke-width="4.88" stroke-linecap="round" opacity="0.19" filter="url(#b2)"/>
<path d="M118.28,623.00 Q125.95,623.00 133.62,623.00" fill="none" stroke="#0a0a0a" stroke-width="1.97" stroke-linecap="round" opacity="0.97" filter="url(#b1)"/>
<path d="M120.74,623.00 Q125.95,623.00 131.16,623.00" fill="none" stroke="#0a0a0a" stroke-width="3.28" stroke-linecap="round" opacity="0.97" filter="url(#b1)"/>
<path d="M143.00,621.90 Q152.00,622.70 161.00,621.90" fill="none" stroke="#222" stroke-width="4.88" stroke-linecap="round" opacity="0.19" filter="url(#b2)"/>
<path d="M142.98,621.90 Q152.00,622.70 161.02,621.90" fill="none" stroke="#0a0a0a" stroke-width="1.97" stroke-linecap="round" opacity="0.97" filter="url(#b1)"/>
<path d="M145.44,622.02 Q152.00,622.58 158.56,622.02" fill="none" stroke="#0a0a0a" stroke-width="3.28" stroke-linecap="round" opacity="0.97" filter="url(#b1)"/>
<path d="M170.60,622.30 Q178.60,622.30 186.60,622.30" fill="none" stroke="#222" stroke-width="4.88" stroke-linecap="round" opacity="0.19" filter="url(#b2)"/>
<path d="M170.58,622.30 Q178.60,622.30 186.62,622.30" fill="none" stroke="#0a0a0a" stroke-width="1.97" stroke-linecap="round" opacity="0.97" filter="url(#b1)"/>
<path d="M173.04,622.30 Q178.60,622.30 184.16,622.30" fill="none" stroke="#0a0a0a" stroke-width="3.28" stroke-linecap="round" opacity="0.97" filter="url(#b1)"/>
<path d="M195.00,623.00 Q203.25,623.00 211.50,623.00" fill="none" stroke="#222" stroke-width="4.88" stroke-linecap="round" opacity="0.19" filter="url(#b2)"/>
<path d="M194.98,623.00 Q203.25,623.00 211.52,623.00" fill="none" stroke="#0a0a0a" stroke-width="1.97" stroke-linecap="round" opacity="0.97" filter="url(#b1)"/>
<path d="M197.44,623.00 Q203.25,623.00 209.06,623.00" fill="none" stroke="#0a0a0a" stroke-width="3.28" stroke-linecap="round" opacity="0.97" filter="url(#b1)"/>
<path d="M221.40,623.80 Q229.90,623.80 238.40,623.80" fill="none" stroke="#222" stroke-width="4.88" stroke-linecap="round" opacity="0.19" filter="url(#b2)"/>
<path d="M221.38,623.80 Q229.90,623.80 238.42,623.80" fill="none" stroke="#0a0a0a" stroke-width="1.97" stroke-linecap="round" opacity="0.97" filter="url(#b1)"/>
<path d="M223.84,623.80 Q229.90,623.80 235.96,623.80" fill="none" stroke="#0a0a0a" stroke-width="3.28" stroke-linecap="round" opacity="0.97" filter="url(#b1)"/>
<rect x="111.45" y="608.85" width="132.64999999999998" height="24.100000000000023" fill="none" stroke="#000" stroke-width="1.45"/>
<rect x="483.20" y="550.40" width="134.70" height="23.75" fill="#cdcdcd"/>
<rect x="483.2" y="550.4" width="134.7" height="23.75" filter="url(#noise)" opacity="0.22"/>
<path d="M489.00,563.10 Q497.38,564.10 505.75,563.10" fill="none" stroke="#222" stroke-width="5.92" stroke-linecap="round" opacity="0.20" filter="url(#b2)"/>
<path d="M489.30,563.10 Q497.38,564.10 505.45,563.10" fill="none" stroke="#0a0a0a" stroke-width="2.59" stroke-linecap="round" opacity="1" filter="url(#b1)"/>
<path d="M491.96,563.25 Q497.38,563.95 502.79,563.25" fill="none" stroke="#0a0a0a" stroke-width="4.32" stroke-linecap="round" opacity="1" filter="url(#b1)"/>
<path d="M514.75,563.25 Q523.38,563.25 532.00,563.25" fill="none" stroke="#222" stroke-width="4.48" stroke-linecap="round" opacity="0.16" filter="url(#b2)"/>
<path d="M514.61,563.25 Q523.38,563.25 532.14,563.25" fill="none" stroke="#333" stroke-width="1.73" stroke-linecap="round" opacity="0.8" filter="url(#b1)"/>
<path d="M516.99,563.25 Q523.38,563.25 529.76,563.25" fill="none" stroke="#333" stroke-width="2.88" stroke-linecap="round" opacity="0.8" filter="url(#b1)"/>
<path d="M541.50,562.00 Q549.38,562.00 557.25,562.00" fill="none" stroke="#222" stroke-width="5.28" stroke-linecap="round" opacity="0.19" filter="url(#b2)"/>
<path d="M541.60,562.00 Q549.38,562.00 557.15,562.00" fill="none" stroke="#0a0a0a" stroke-width="2.21" stroke-linecap="round" opacity="0.97" filter="url(#b1)"/>
<path d="M544.14,562.00 Q549.38,562.00 554.61,562.00" fill="none" stroke="#0a0a0a" stroke-width="3.68" stroke-linecap="round" opacity="0.97" filter="url(#b1)"/>
<path d="M565.50,562.50 Q574.38,562.50 583.25,562.50" fill="none" stroke="#222" stroke-width="4.48" stroke-linecap="round" opacity="0.16" filter="url(#b2)"/>
<path d="M565.36,562.50 Q574.38,562.50 583.39,562.50" fill="none" stroke="#333" stroke-width="1.73" stroke-linecap="round" opacity="0.82" filter="url(#b1)"/>
<path d="M567.74,562.50 Q574.38,562.50 581.01,562.50" fill="none" stroke="#333" stroke-width="2.88" stroke-linecap="round" opacity="0.82" filter="url(#b1)"/>
<path d="M593.50,561.80 Q601.75,560.80 610.00,561.80" fill="none" stroke="#222" stroke-width="5.28" stroke-linecap="round" opacity="0.19" filter="url(#b2)"/>
<path d="M593.60,561.80 Q601.75,560.80 609.90,561.80" fill="none" stroke="#0a0a0a" stroke-width="2.21" stroke-linecap="round" opacity="0.97" filter="url(#b1)"/>
<path d="M596.14,561.65 Q601.75,560.95 607.36,561.65" fill="none" stroke="#0a0a0a" stroke-width="3.68" stroke-linecap="round" opacity="0.97" filter="url(#b1)"/>
<rect x="483.2" y="550.4" width="134.7" height="23.75" fill="none" stroke="#000" stroke-width="1.45"/>
<rect x="483.70" y="579.85" width="134.90" height="24.20" fill="#c2c2c2"/>
<rect x="483.7" y="579.85" width="134.90000000000003" height="24.199999999999932" filter="url(#noise)" opacity="0.22"/>
<path d="M490.50,594.30 Q500.12,594.30 509.75,594.30" fill="none" stroke="#222" stroke-width="6.24" stroke-linecap="round" opacity="0.20" filter="url(#b2)"/>
<path d="M490.89,594.30 Q500.12,594.30 509.36,594.30" fill="none" stroke="#0a0a0a" stroke-width="2.78" stroke-linecap="round" opacity="1" filter="url(#b1)"/>
<path d="M493.62,594.30 Q500.12,594.30 506.63,594.30" fill="none" stroke="#0a0a0a" stroke-width="4.64" stroke-linecap="round" opacity="1" filter="url(#b1)"/>
<path d="M520.50,594.25 Q527.25,594.25 534.00,594.25" fill="none" stroke="#222" stroke-width="5.44" stroke-linecap="round" opacity="0.18" filter="url(#b2)"/>
<path d="M520.65,594.25 Q527.25,594.25 533.85,594.25" fill="none" stroke="#181818" stroke-width="2.30" stroke-linecap="round" opacity="0.92" filter="url(#b1)"/>
<path d="M523.22,594.25 Q527.25,594.25 531.28,594.25" fill="none" stroke="#181818" stroke-width="3.84" stroke-linecap="round" opacity="0.92" filter="url(#b1)"/>
<path d="M542.25,593.25 Q552.12,593.25 562.00,593.25" fill="none" stroke="#222" stroke-width="5.44" stroke-linecap="round" opacity="0.19" filter="url(#b2)"/>
<path d="M542.40,593.25 Q552.12,593.25 561.85,593.25" fill="none" stroke="#0a0a0a" stroke-width="2.30" stroke-linecap="round" opacity="0.97" filter="url(#b1)"/>
<path d="M544.97,593.25 Q552.12,593.25 559.28,593.25" fill="none" stroke="#0a0a0a" stroke-width="3.84" stroke-linecap="round" opacity="0.97" filter="url(#b1)"/>
<path d="M569.75,593.25 Q576.88,593.25 584.00,593.25" fill="none" stroke="#222" stroke-width="4.80" stroke-linecap="round" opacity="0.18" filter="url(#b2)"/>
<path d="M569.71,593.25 Q576.88,593.25 584.04,593.25" fill="none" stroke="#2c2c2c" stroke-width="1.92" stroke-linecap="round" opacity="0.88" filter="url(#b1)"/>
<path d="M572.15,593.25 Q576.88,593.25 581.60,593.25" fill="none" stroke="#2c2c2c" stroke-width="3.20" stroke-linecap="round" opacity="0.88" filter="url(#b1)"/>
<path d="M593.50,591.70 Q601.50,591.70 609.50,591.70" fill="none" stroke="#222" stroke-width="5.76" stroke-linecap="round" opacity="0.19" filter="url(#b2)"/>
<path d="M593.75,591.70 Q601.50,591.70 609.25,591.70" fill="none" stroke="#0a0a0a" stroke-width="2.50" stroke-linecap="round" opacity="0.97" filter="url(#b1)"/>
<path d="M596.38,591.70 Q601.50,591.70 606.62,591.70" fill="none" stroke="#0a0a0a" stroke-width="4.16" stroke-linecap="round" opacity="0.97" filter="url(#b1)"/>
<rect x="483.7" y="579.85" width="134.90000000000003" height="24.199999999999932" fill="none" stroke="#000" stroke-width="1.45"/>
<rect x="483.40" y="610.10" width="134.90" height="22.30" fill="#cfcfcf"/>
<rect x="483.4" y="610.1" width="134.89999999999998" height="22.299999999999955" filter="url(#noise)" opacity="0.22"/>
<path d="M491.50,621.75 Q499.38,621.75 507.25,621.75" fill="none" stroke="#222" stroke-width="4.96" stroke-linecap="round" opacity="0.19" filter="url(#b2)"/>
<path d="M491.51,621.75 Q499.38,621.75 507.24,621.75" fill="none" stroke="#0a0a0a" stroke-width="2.02" stroke-linecap="round" opacity="0.97" filter="url(#b1)"/>
<path d="M493.98,621.75 Q499.38,621.75 504.77,621.75" fill="none" stroke="#0a0a0a" stroke-width="3.36" stroke-linecap="round" opacity="0.97" filter="url(#b1)"/>
<path d="M516.00,620.85 Q525.62,621.65 535.25,620.85" fill="none" stroke="#222" stroke-width="4.96" stroke-linecap="round" opacity="0.19" filter="url(#b2)"/>
<path d="M516.01,620.85 Q525.62,621.65 535.24,620.85" fill="none" stroke="#0a0a0a" stroke-width="2.02" stroke-linecap="round" opacity="0.97" filter="url(#b1)"/>
<path d="M518.48,620.97 Q525.62,621.53 532.77,620.97" fill="none" stroke="#0a0a0a" stroke-width="3.36" stroke-linecap="round" opacity="0.97" filter="url(#b1)"/>
<path d="M544.00,621.25 Q552.12,621.25 560.25,621.25" fill="none" stroke="#222" stroke-width="4.96" stroke-linecap="round" opacity="0.19" filter="url(#b2)"/>
<path d="M544.01,621.25 Q552.12,621.25 560.24,621.25" fill="none" stroke="#0a0a0a" stroke-width="2.02" stroke-linecap="round" opacity="0.97" filter="url(#b1)"/>
<path d="M546.48,621.25 Q552.12,621.25 557.77,621.25" fill="none" stroke="#0a0a0a" stroke-width="3.36" stroke-linecap="round" opacity="0.97" filter="url(#b1)"/>
<path d="M568.50,622.00 Q577.12,622.00 585.75,622.00" fill="none" stroke="#222" stroke-width="4.96" stroke-linecap="round" opacity="0.19" filter="url(#b2)"/>
<path d="M568.51,622.00 Q577.12,622.00 585.74,622.00" fill="none" stroke="#0a0a0a" stroke-width="2.02" stroke-linecap="round" opacity="0.97" filter="url(#b1)"/>
<path d="M570.98,622.00 Q577.12,622.00 583.27,622.00" fill="none" stroke="#0a0a0a" stroke-width="3.36" stroke-linecap="round" opacity="0.97" filter="url(#b1)"/>
<path d="M594.75,622.80 Q603.50,622.80 612.25,622.80" fill="none" stroke="#222" stroke-width="4.96" stroke-linecap="round" opacity="0.19" filter="url(#b2)"/>
<path d="M594.76,622.80 Q603.50,622.80 612.24,622.80" fill="none" stroke="#0a0a0a" stroke-width="2.02" stroke-linecap="round" opacity="0.97" filter="url(#b1)"/>
<path d="M597.23,622.80 Q603.50,622.80 609.77,622.80" fill="none" stroke="#0a0a0a" stroke-width="3.36" stroke-linecap="round" opacity="0.97" filter="url(#b1)"/>
<rect x="483.4" y="610.1" width="134.89999999999998" height="22.299999999999955" fill="none" stroke="#000" stroke-width="1.45"/>
<text transform="translate(108.90,566.25) scale(0.93,1)" font-size="14.5" font-weight="bold" text-anchor="end" stroke="#000" stroke-width="0.26">SLC7A11</text>
<text transform="translate(108.50,596.25) scale(0.97,1)" font-size="14.5" font-weight="bold" text-anchor="end" stroke="#000" stroke-width="0.26">GPX4</text>
<text transform="translate(108.90,626.25) scale(0.95,1)" font-size="14.5" font-weight="bold" text-anchor="end" stroke="#000" stroke-width="0.26"><tspan font-weight="normal" stroke-width="0.25" font-size="17">β</tspan><tspan dx="2.0">-actin</tspan></text>
<text transform="translate(481.30,565.50) scale(0.93,1)" font-size="14.5" font-weight="bold" text-anchor="end" stroke="#000" stroke-width="0.26">SLC7A11</text>
<text transform="translate(480.90,595.50) scale(0.97,1)" font-size="14.5" font-weight="bold" text-anchor="end" stroke="#000" stroke-width="0.26">GPX4</text>
<text transform="translate(481.30,625.50) scale(0.95,1)" font-size="14.5" font-weight="bold" text-anchor="end" stroke="#000" stroke-width="0.26"><tspan font-weight="normal" stroke-width="0.25" font-size="17">β</tspan><tspan dx="2.0">-actin</tspan></text>
<text transform="translate(124.25,649.20) scale(1.05,1)" font-size="15.5" font-weight="bold" text-anchor="middle" stroke="#000" stroke-width="0.28">1</text>
<text transform="translate(153.25,649.20) scale(1.05,1)" font-size="15.5" font-weight="bold" text-anchor="middle" stroke="#000" stroke-width="0.28">2</text>
<text transform="translate(177.50,649.20) scale(1.05,1)" font-size="15.5" font-weight="bold" text-anchor="middle" stroke="#000" stroke-width="0.28">3</text>
<text transform="translate(201.75,649.20) scale(1.05,1)" font-size="15.5" font-weight="bold" text-anchor="middle" stroke="#000" stroke-width="0.28">4</text>
<text transform="translate(231.25,649.20) scale(1.05,1)" font-size="15.5" font-weight="bold" text-anchor="middle" stroke="#000" stroke-width="0.28">5</text>
<text transform="translate(500.00,646.70) scale(1.05,1)" font-size="15.5" font-weight="bold" text-anchor="middle" stroke="#000" stroke-width="0.28">1</text>
<text transform="translate(529.25,646.70) scale(1.05,1)" font-size="15.5" font-weight="bold" text-anchor="middle" stroke="#000" stroke-width="0.28">2</text>
<text transform="translate(553.75,646.70) scale(1.05,1)" font-size="15.5" font-weight="bold" text-anchor="middle" stroke="#000" stroke-width="0.28">3</text>
<text transform="translate(578.00,646.70) scale(1.05,1)" font-size="15.5" font-weight="bold" text-anchor="middle" stroke="#000" stroke-width="0.28">4</text>
<text transform="translate(607.50,646.70) scale(1.05,1)" font-size="15.5" font-weight="bold" text-anchor="middle" stroke="#000" stroke-width="0.28">5</text>
<text transform="translate(177.70,544.60) scale(1.045,1)" font-size="16" font-weight="bold" text-anchor="middle" stroke="#000" stroke-width="0.29">HCT116</text>
<text transform="translate(183.10,668.60) scale(1.03,1)" font-size="16" font-weight="bold" text-anchor="middle" stroke="#000" stroke-width="0.29">HCT116</text>
<text transform="translate(550.40,545.30) scale(1.045,1)" font-size="16" font-weight="bold" text-anchor="middle" stroke="#000" stroke-width="0.29">LoVo</text>
<text transform="translate(555.40,667.80)" font-size="16" font-weight="bold" text-anchor="middle" stroke="#000" stroke-width="0.29">LoVo</text>
<text transform="translate(1.50,538.80) scale(1.06,1)" font-size="26.5" font-weight="bold" text-anchor="start" stroke="#000" stroke-width="0.48">G</text>
<text transform="translate(367.00,538.30) scale(1.06,1)" font-size="26.5" font-weight="bold" text-anchor="start" stroke="#000" stroke-width="0.48">H</text>
<line x1="54.50" y1="684.95" x2="54.50" y2="858.05" stroke="#000" stroke-width="1.6"/>
<line x1="53.70" y1="857.25" x2="313.00" y2="857.25" stroke="#000" stroke-width="2.1"/>
<line x1="47.20" y1="685.75" x2="54.50" y2="685.75" stroke="#000" stroke-width="1.6"/>
<text transform="translate(45.70,690.95) scale(1.07,1)" font-size="13.6" font-weight="bold" text-anchor="end" stroke="#000" stroke-width="0.24">1.5</text>
<line x1="47.20" y1="743.00" x2="54.50" y2="743.00" stroke="#000" stroke-width="1.6"/>
<text transform="translate(45.70,748.20) scale(1.07,1)" font-size="13.6" font-weight="bold" text-anchor="end" stroke="#000" stroke-width="0.24">1.0</text>
<line x1="47.20" y1="800.00" x2="54.50" y2="800.00" stroke="#000" stroke-width="1.6"/>
<text transform="translate(45.70,805.20) scale(1.07,1)" font-size="13.6" font-weight="bold" text-anchor="end" stroke="#000" stroke-width="0.24">0.5</text>
<line x1="47.20" y1="857.25" x2="54.50" y2="857.25" stroke="#000" stroke-width="1.6"/>
<text transform="translate(45.70,862.45) scale(1.07,1)" font-size="13.6" font-weight="bold" text-anchor="end" stroke="#000" stroke-width="0.24">0.0</text>
<line x1="116.25" y1="857.25" x2="116.25" y2="864.05" stroke="#000" stroke-width="1.6"/>
<text transform="translate(116.25,879.45) scale(1.025,1)" font-size="14" font-weight="bold" text-anchor="middle" stroke="#000" stroke-width="0.25">SLC7A11</text>
<line x1="249.25" y1="857.25" x2="249.25" y2="864.05" stroke="#000" stroke-width="1.6"/>
<text transform="translate(249.25,879.45) scale(1.025,1)" font-size="14" font-weight="bold" text-anchor="middle" stroke="#000" stroke-width="0.25">GPX4</text>
<line x1="70.50" y1="744.25" x2="70.50" y2="735.75" stroke="#000" stroke-width="1.8"/>
<line x1="66.50" y1="735.75" x2="74.50" y2="735.75" stroke="#000" stroke-width="1.8"/>
<rect x="63.95" y="743.90" width="13.10" height="113.35" fill="#fff" stroke="#000" stroke-width="2.3"/>
<line x1="93.75" y1="812.25" x2="93.75" y2="804.25" stroke="#000" stroke-width="1.8"/>
<line x1="89.75" y1="804.25" x2="97.75" y2="804.25" stroke="#000" stroke-width="1.8"/>
<rect x="87.20" y="811.90" width="13.10" height="45.35" fill="#000" stroke="#000" stroke-width="2.3"/>
<line x1="116.75" y1="761.50" x2="116.75" y2="751.25" stroke="#000" stroke-width="1.8"/>
<line x1="112.75" y1="751.25" x2="120.75" y2="751.25" stroke="#000" stroke-width="1.8"/>
<rect x="109.95" y="761.15" width="13.60" height="96.10" fill="#ff8080" stroke="#000" stroke-width="2.3"/>
<line x1="140.25" y1="809.50" x2="140.25" y2="796.25" stroke="#000" stroke-width="1.8"/>
<line x1="136.25" y1="796.25" x2="144.25" y2="796.25" stroke="#000" stroke-width="1.8"/>
<rect x="133.45" y="809.15" width="13.60" height="48.10" fill="#ff8000" stroke="#000" stroke-width="2.3"/>
<line x1="163.75" y1="766.50" x2="163.75" y2="758.00" stroke="#000" stroke-width="1.8"/>
<line x1="159.75" y1="758.00" x2="167.75" y2="758.00" stroke="#000" stroke-width="1.8"/>
<rect x="157.20" y="766.15" width="13.10" height="91.10" fill="#c0c000" stroke="#000" stroke-width="2.3"/>
<line x1="202.50" y1="744.75" x2="202.50" y2="733.25" stroke="#000" stroke-width="1.8"/>
<line x1="198.50" y1="733.25" x2="206.50" y2="733.25" stroke="#000" stroke-width="1.8"/>
<rect x="195.95" y="744.40" width="13.10" height="112.85" fill="#fff" stroke="#000" stroke-width="2.3"/>
<line x1="225.62" y1="799.25" x2="225.62" y2="793.75" stroke="#000" stroke-width="1.8"/>
<line x1="221.62" y1="793.75" x2="229.62" y2="793.75" stroke="#000" stroke-width="1.8"/>
<rect x="218.95" y="798.90" width="13.35" height="58.35" fill="#000" stroke="#000" stroke-width="2.3"/>
<line x1="249.38" y1="768.50" x2="249.38" y2="761.00" stroke="#000" stroke-width="1.8"/>
<line x1="245.38" y1="761.00" x2="253.38" y2="761.00" stroke="#000" stroke-width="1.8"/>
<rect x="242.70" y="768.15" width="13.35" height="89.10" fill="#ff8080" stroke="#000" stroke-width="2.3"/>
<line x1="272.50" y1="803.50" x2="272.50" y2="795.00" stroke="#000" stroke-width="1.8"/>
<line x1="268.50" y1="795.00" x2="276.50" y2="795.00" stroke="#000" stroke-width="1.8"/>
<rect x="265.95" y="803.15" width="13.10" height="54.10" fill="#ff8000" stroke="#000" stroke-width="2.3"/>
<line x1="295.75" y1="765.50" x2="295.75" y2="756.25" stroke="#000" stroke-width="1.8"/>
<line x1="291.75" y1="756.25" x2="299.75" y2="756.25" stroke="#000" stroke-width="1.8"/>
<rect x="289.20" y="765.15" width="13.10" height="92.10" fill="#c0c000" stroke="#000" stroke-width="2.3"/>
<line x1="70.50" y1="730.70" x2="92.70" y2="730.70" stroke="#000" stroke-width="1.8"/>
<text x="82.45" y="730.10" font-size="13" text-anchor="middle" letter-spacing="1.7" stroke="#000" stroke-width="0.12">***</text>
<line x1="95.00" y1="746.70" x2="116.50" y2="746.70" stroke="#000" stroke-width="1.8"/>
<text x="106.60" y="747.50" font-size="13" text-anchor="middle" letter-spacing="1.7" stroke="#000" stroke-width="0.12">***</text>
<line x1="142.80" y1="753.30" x2="164.60" y2="753.30" stroke="#000" stroke-width="1.8"/>
<text x="154.55" y="754.10" font-size="13" text-anchor="middle" letter-spacing="1.7" stroke="#000" stroke-width="0.12">**</text>
<line x1="202.50" y1="728.50" x2="223.75" y2="728.50" stroke="#000" stroke-width="1.8"/>
<text x="213.97" y="728.20" font-size="13" text-anchor="middle" letter-spacing="1.7" stroke="#000" stroke-width="0.12">***</text>
<line x1="226.25" y1="756.30" x2="248.00" y2="756.30" stroke="#000" stroke-width="1.8"/>
<text x="237.97" y="756.00" font-size="13" text-anchor="middle" letter-spacing="1.7" stroke="#000" stroke-width="0.12">**</text>
<line x1="273.75" y1="752.00" x2="295.50" y2="752.00" stroke="#000" stroke-width="1.8"/>
<text x="285.48" y="751.00" font-size="13" text-anchor="middle" letter-spacing="1.7" stroke="#000" stroke-width="0.12">***</text>
<rect x="65.45" y="683.35" width="16.10" height="6.50" fill="#fff" stroke="#000" stroke-width="2.5"/>
<text transform="translate(93.50,692.00)" font-size="14.3" font-weight="normal" text-anchor="start">1</text>
<rect x="116.45" y="683.35" width="16.10" height="6.50" fill="#000" stroke="#000" stroke-width="2.5"/>
<text transform="translate(144.30,692.00)" font-size="14.3" font-weight="normal" text-anchor="start">2</text>
<rect x="167.95" y="683.35" width="16.10" height="6.50" fill="#ff8080" stroke="#000" stroke-width="2.5"/>
<text transform="translate(194.80,692.00)" font-size="14.3" font-weight="normal" text-anchor="start">3</text>
<rect x="218.95" y="683.35" width="16.10" height="6.50" fill="#ff8000" stroke="#000" stroke-width="2.5"/>
<text transform="translate(246.00,692.00)" font-size="14.3" font-weight="normal" text-anchor="start">4</text>
<rect x="270.95" y="683.35" width="16.10" height="6.50" fill="#c0c000" stroke="#000" stroke-width="2.5"/>
<text transform="translate(298.50,692.00)" font-size="14.3" font-weight="normal" text-anchor="start">5</text>
<text transform="translate(17.80,770.50) rotate(-90) scale(1.088,1)" font-size="14" font-weight="bold" text-anchor="middle" stroke="#000" stroke-width="0.25">Relative protein level</text>
<line x1="426.75" y1="684.95" x2="426.75" y2="858.05" stroke="#000" stroke-width="1.6"/>
<line x1="425.95" y1="857.25" x2="686.00" y2="857.25" stroke="#000" stroke-width="2.1"/>
<line x1="419.45" y1="685.75" x2="426.75" y2="685.75" stroke="#000" stroke-width="1.6"/>
<text transform="translate(417.95,690.95) scale(1.07,1)" font-size="13.6" font-weight="bold" text-anchor="end" stroke="#000" stroke-width="0.24">1.5</text>
<line x1="419.45" y1="743.00" x2="426.75" y2="743.00" stroke="#000" stroke-width="1.6"/>
<text transform="translate(417.95,748.20) scale(1.07,1)" font-size="13.6" font-weight="bold" text-anchor="end" stroke="#000" stroke-width="0.24">1.0</text>
<line x1="419.45" y1="800.00" x2="426.75" y2="800.00" stroke="#000" stroke-width="1.6"/>
<text transform="translate(417.95,805.20) scale(1.07,1)" font-size="13.6" font-weight="bold" text-anchor="end" stroke="#000" stroke-width="0.24">0.5</text>
<line x1="419.45" y1="857.25" x2="426.75" y2="857.25" stroke="#000" stroke-width="1.6"/>
<text transform="translate(417.95,862.45) scale(1.07,1)" font-size="13.6" font-weight="bold" text-anchor="end" stroke="#000" stroke-width="0.24">0.0</text>
<line x1="488.75" y1="857.25" x2="488.75" y2="864.05" stroke="#000" stroke-width="1.6"/>
<text transform="translate(488.75,879.45) scale(1.025,1)" font-size="14" font-weight="bold" text-anchor="middle" stroke="#000" stroke-width="0.25">SLC7A11</text>
<line x1="620.75" y1="857.25" x2="620.75" y2="864.05" stroke="#000" stroke-width="1.6"/>
<text transform="translate(620.75,879.45) scale(1.025,1)" font-size="14" font-weight="bold" text-anchor="middle" stroke="#000" stroke-width="0.25">GPX4</text>
<line x1="442.50" y1="744.75" x2="442.50" y2="732.50" stroke="#000" stroke-width="1.8"/>
<line x1="438.50" y1="732.50" x2="446.50" y2="732.50" stroke="#000" stroke-width="1.8"/>
<rect x="435.95" y="744.40" width="13.10" height="112.85" fill="#fff" stroke="#000" stroke-width="2.3"/>
<line x1="465.50" y1="822.25" x2="465.50" y2="812.50" stroke="#000" stroke-width="1.8"/>
<line x1="461.50" y1="812.50" x2="469.50" y2="812.50" stroke="#000" stroke-width="1.8"/>
<rect x="458.95" y="821.90" width="13.10" height="35.35" fill="#000" stroke="#000" stroke-width="2.3"/>
<line x1="488.75" y1="766.00" x2="488.75" y2="755.75" stroke="#000" stroke-width="1.8"/>
<line x1="484.75" y1="755.75" x2="492.75" y2="755.75" stroke="#000" stroke-width="1.8"/>
<rect x="482.20" y="765.65" width="13.10" height="91.60" fill="#ff8080" stroke="#000" stroke-width="2.3"/>
<line x1="512.00" y1="814.75" x2="512.00" y2="808.25" stroke="#000" stroke-width="1.8"/>
<line x1="508.00" y1="808.25" x2="516.00" y2="808.25" stroke="#000" stroke-width="1.8"/>
<rect x="505.45" y="814.40" width="13.10" height="42.85" fill="#ff8000" stroke="#000" stroke-width="2.3"/>
<line x1="535.75" y1="767.25" x2="535.75" y2="761.25" stroke="#000" stroke-width="1.8"/>
<line x1="531.75" y1="761.25" x2="539.75" y2="761.25" stroke="#000" stroke-width="1.8"/>
<rect x="529.20" y="766.90" width="13.10" height="90.35" fill="#c0c000" stroke="#000" stroke-width="2.3"/>
<line x1="574.00" y1="744.75" x2="574.00" y2="734.50" stroke="#000" stroke-width="1.8"/>
<line x1="570.00" y1="734.50" x2="578.00" y2="734.50" stroke="#000" stroke-width="1.8"/>
<rect x="567.45" y="744.40" width="13.10" height="112.85" fill="#fff" stroke="#000" stroke-width="2.3"/>
<line x1="597.75" y1="803.50" x2="597.75" y2="797.00" stroke="#000" stroke-width="1.8"/>
<line x1="593.75" y1="797.00" x2="601.75" y2="797.00" stroke="#000" stroke-width="1.8"/>
<rect x="591.20" y="803.15" width="13.10" height="54.10" fill="#000" stroke="#000" stroke-width="2.3"/>
<line x1="621.25" y1="761.50" x2="621.25" y2="749.50" stroke="#000" stroke-width="1.8"/>
<line x1="617.25" y1="749.50" x2="625.25" y2="749.50" stroke="#000" stroke-width="1.8"/>
<rect x="614.95" y="761.15" width="12.60" height="96.10" fill="#ff8080" stroke="#000" stroke-width="2.3"/>
<line x1="644.50" y1="809.00" x2="644.50" y2="800.50" stroke="#000" stroke-width="1.8"/>
<line x1="640.50" y1="800.50" x2="648.50" y2="800.50" stroke="#000" stroke-width="1.8"/>
<rect x="637.95" y="808.65" width="13.10" height="48.60" fill="#ff8000" stroke="#000" stroke-width="2.3"/>
<line x1="668.25" y1="766.00" x2="668.25" y2="753.75" stroke="#000" stroke-width="1.8"/>
<line x1="664.25" y1="753.75" x2="672.25" y2="753.75" stroke="#000" stroke-width="1.8"/>
<rect x="661.70" y="765.65" width="13.10" height="91.60" fill="#c0c000" stroke="#000" stroke-width="2.3"/>
<line x1="442.00" y1="727.50" x2="463.75" y2="727.50" stroke="#000" stroke-width="1.8"/>
<text x="453.73" y="728.20" font-size="13" text-anchor="middle" letter-spacing="1.7" stroke="#000" stroke-width="0.12">***</text>
<line x1="467.00" y1="751.75" x2="488.75" y2="751.75" stroke="#000" stroke-width="1.8"/>
<text x="478.73" y="752.65" font-size="13" text-anchor="middle" letter-spacing="1.7" stroke="#000" stroke-width="0.12">***</text>
<line x1="515.50" y1="756.25" x2="537.00" y2="756.25" stroke="#000" stroke-width="1.8"/>
<text x="527.10" y="757.05" font-size="13" text-anchor="middle" letter-spacing="1.7" stroke="#000" stroke-width="0.12">***</text>
<line x1="574.75" y1="729.50" x2="595.25" y2="729.50" stroke="#000" stroke-width="1.8"/>
<text x="585.85" y="729.60" font-size="13" text-anchor="middle" letter-spacing="1.7" stroke="#000" stroke-width="0.12">***</text>
<line x1="598.25" y1="745.00" x2="619.50" y2="745.00" stroke="#000" stroke-width="1.8"/>
<text x="609.73" y="744.80" font-size="13" text-anchor="middle" letter-spacing="1.7" stroke="#000" stroke-width="0.12">***</text>
<line x1="645.75" y1="749.50" x2="667.25" y2="749.50" stroke="#000" stroke-width="1.8"/>
<text x="657.35" y="749.80" font-size="13" text-anchor="middle" letter-spacing="1.7" stroke="#000" stroke-width="0.12">***</text>
<rect x="437.20" y="682.55" width="16.10" height="6.50" fill="#fff" stroke="#000" stroke-width="2.5"/>
<text transform="translate(465.80,691.20)" font-size="14.3" font-weight="normal" text-anchor="start">1</text>
<rect x="490.45" y="682.55" width="16.10" height="6.50" fill="#000" stroke="#000" stroke-width="2.5"/>
<text transform="translate(517.80,691.20)" font-size="14.3" font-weight="normal" text-anchor="start">2</text>
<rect x="542.95" y="682.55" width="16.10" height="6.50" fill="#ff8080" stroke="#000" stroke-width="2.5"/>
<text transform="translate(570.00,691.20)" font-size="14.3" font-weight="normal" text-anchor="start">3</text>
<rect x="594.95" y="682.55" width="16.10" height="6.50" fill="#ff8000" stroke="#000" stroke-width="2.5"/>
<text transform="translate(622.00,691.20)" font-size="14.3" font-weight="normal" text-anchor="start">4</text>
<rect x="641.20" y="682.55" width="16.10" height="6.50" fill="#c0c000" stroke="#000" stroke-width="2.5"/>
<text transform="translate(668.30,691.20)" font-size="14.3" font-weight="normal" text-anchor="start">5</text>
<text transform="translate(389.00,770.50) rotate(-90) scale(1.088,1)" font-size="14" font-weight="bold" text-anchor="middle" stroke="#000" stroke-width="0.25">Relative protein level</text>
<text transform="translate(148.20,913.90)" font-size="16.7" font-weight="bold" text-anchor="start" stroke="#000" stroke-width="0.30" textLength="74.2" lengthAdjust="spacingAndGlyphs">1: Control</text>
<text transform="translate(256.60,913.90)" font-size="16.7" font-weight="bold" text-anchor="start" stroke="#000" stroke-width="0.30" textLength="97.6" lengthAdjust="spacingAndGlyphs">2: Triptonide</text>
<text transform="translate(390.70,913.90)" font-size="16.7" font-weight="bold" text-anchor="start" stroke="#000" stroke-width="0.30" textLength="161" lengthAdjust="spacingAndGlyphs">3: Triptonide+740Y-P</text>
<text transform="translate(147.80,941.90)" font-size="16.7" font-weight="bold" text-anchor="start" stroke="#000" stroke-width="0.30" textLength="150" lengthAdjust="spacingAndGlyphs">4: Triptonide+vector</text>
<text transform="translate(390.70,941.90)" font-size="16.7" font-weight="bold" text-anchor="start" stroke="#000" stroke-width="0.30" textLength="140.5" lengthAdjust="spacingAndGlyphs">5: Triptonide+Nrf2</text>
</svg>
</body></html>
